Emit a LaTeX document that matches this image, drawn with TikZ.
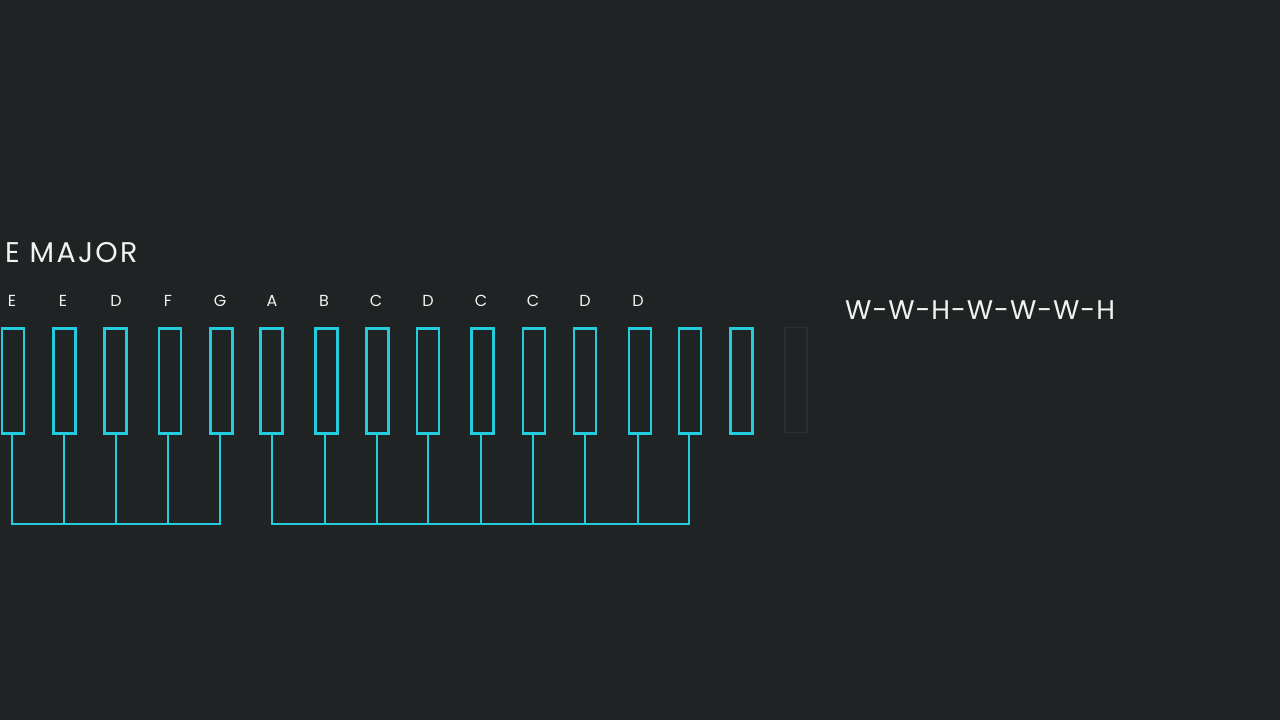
\documentclass[tikz,border=0pt]{standalone}
\usepackage{fontspec}
\setmainfont{Poppins}
\newfontfamily\wideA[LetterSpace=8]{Poppins}
\newfontfamily\wideB[LetterSpace=3.5]{Poppins}
\definecolor{bg}{HTML}{202324}
\definecolor{keyc}{HTML}{22CBDD}
\definecolor{txt}{HTML}{F2F2F2}
\definecolor{ghost}{HTML}{2A2F30}
\begin{document}
\begin{tikzpicture}[x=1pt,y=-1pt,
  key/.style={draw=keyc,line width=2.7pt,minimum width=22pt,minimum height=105pt,inner sep=0pt,anchor=north},
  ghostkey/.style={draw=ghost,line width=1.2pt,minimum width=22pt,minimum height=105pt,inner sep=0pt,anchor=north},
  stem/.style={draw=keyc,line width=2.7pt},
  note/.style={text=txt,font=\fontsize{16}{16}\selectfont,inner sep=0pt},
  title/.style={text=txt,inner sep=0pt}]
\fill[bg] (0,0) rectangle (1280,720);
\useasboundingbox (0,0) rectangle (1280,720);
% keys
\foreach \i/\x in {1/13,2/64.5,3/115.5,4/170,5/221.5,6/271.5,7/326.5,8/377.5,9/428,10/482.5,11/534,12/585,13/640,14/690,15/741.5}
  \node[key] (k\i) at (\x,327) {};
\node[ghostkey] (g1) at (796,327) {};
% bottom coordinates
\foreach \i/\x in {1/12,2/64,3/116,4/168,5/220,6/272,7/325,8/377,9/428,10/481,11/533,12/585,13/638,14/689}
  \coordinate (b\i) at (\x,524);
\foreach \i/\x in {1/12,2/64,3/116,4/168,5/220,6/272,7/325,8/377,9/428,10/481,11/533,12/585,13/638,14/689}
  \draw[stem] (k\i.south -| b\i) -- (b\i);
\draw[stem,line cap=rect] (b1) -- (b5);
\draw[stem,line cap=rect] (b6) -- (b14);
% labels
\foreach \i/\x/\t in {1/12/E,2/63/E,3/116/D,4/168/F,5/220/G,6/272/A,7/324/B,8/376/C,9/428/D,10/481/C,11/533/C,12/585/D,13/638/D}
  \node[note,anchor=base] (l\i) at (\x,306) {\t};
\node[title,font=\wideA\fontsize{28.5}{28.5}\selectfont,anchor=base west] (ttl) at (5,262) {E MAJOR};
\node[title,font=\wideB\fontsize{27}{27}\selectfont,anchor=base west] (pat) at (845,319) {W-W-H-W-W-W-H};
\end{tikzpicture}
\end{document}
